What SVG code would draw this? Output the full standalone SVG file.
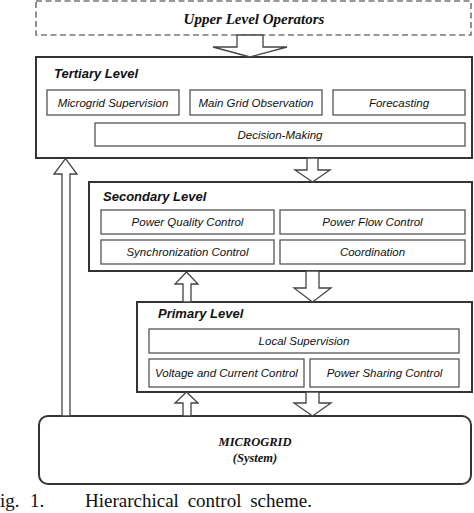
<svg xmlns="http://www.w3.org/2000/svg" width="474" height="513" viewBox="0 0 474 513">
<style>
.lvl{fill:#fff;stroke:#333;stroke-width:2}
.box{fill:#fff;stroke:#555;stroke-width:1.3}
.arr{fill:#fff;stroke:#444;stroke-width:1.3;stroke-linejoin:miter}
.lbl{font-family:"Liberation Sans",Arial,sans-serif;font-style:italic;font-size:11.5px;fill:#111;text-anchor:middle}
.ttl{font-family:"Liberation Sans",Arial,sans-serif;font-style:italic;font-weight:bold;font-size:13px;fill:#111}
.ser{font-family:"Liberation Serif","Times New Roman",serif;font-style:italic;font-weight:bold;fill:#111;text-anchor:middle}
.cap{font-family:"Liberation Serif","Times New Roman",serif;font-size:19px;fill:#111}
</style>
<rect width="474" height="513" fill="#fff"/>
<g id="upper">
<rect x="36" y="1" width="435" height="34" fill="#fff" stroke="#777" stroke-width="1.6" stroke-dasharray="6,3.5"/>
<text class="ser" x="254" y="24" font-size="15">Upper Level Operators</text>
</g>
<g id="tertiary">
<rect class="lvl" x="36" y="57" width="436" height="101"/>
<text class="ttl" x="54" y="78">Tertiary Level</text>
<rect class="box" x="47" y="90" width="132" height="25"/>
<text class="lbl" x="113" y="106.5">Microgrid Supervision</text>
<rect class="box" x="190" y="90" width="132" height="25"/>
<text class="lbl" x="256" y="106.5">Main Grid Observation</text>
<rect class="box" x="333" y="90" width="132" height="25"/>
<text class="lbl" x="399" y="106.5">Forecasting</text>
<rect class="box" x="95" y="123" width="370" height="23"/>
<text class="lbl" x="280" y="138.5">Decision-Making</text>
</g>
<g id="secondary">
<rect class="lvl" x="89" y="182" width="383" height="89"/>
<text class="ttl" x="103" y="201">Secondary Level</text>
<rect class="box" x="101" y="210" width="173" height="24"/>
<text class="lbl" x="187.5" y="226">Power Quality Control</text>
<rect class="box" x="280" y="210" width="185" height="24"/>
<text class="lbl" x="372.5" y="226">Power Flow Control</text>
<rect class="box" x="101" y="240" width="173" height="24"/>
<text class="lbl" x="187.5" y="256">Synchronization Control</text>
<rect class="box" x="280" y="240" width="185" height="24"/>
<text class="lbl" x="372.5" y="256">Coordination</text>
</g>
<g id="primary">
<rect class="lvl" x="137" y="302" width="335" height="90"/>
<text class="ttl" x="158" y="318">Primary Level</text>
<rect class="box" x="149" y="329" width="310" height="24"/>
<text class="lbl" x="304" y="345">Local Supervision</text>
<rect class="box" x="149" y="359" width="155" height="28"/>
<text class="lbl" x="226.5" y="377">Voltage and Current Control</text>
<rect class="box" x="310" y="359" width="149" height="28"/>
<text class="lbl" x="384.5" y="377">Power Sharing Control</text>
</g>
<g id="microgrid">
<rect class="lvl" x="39" y="416" width="432" height="68" rx="9" ry="9"/>
<text class="ser" x="255" y="446" font-size="12.5">MICROGRID</text>
<text class="ser" x="255" y="462" font-size="12.5">(System)</text>
</g>
<g id="connectors">
<polygon class="arr" points="237,35 263,35 263,47 287,47 250,57 213,47 237,47"/>
<polygon class="arr" points="307,158 318,158 318,170 330,170 312.5,182 295,170 307,170"/>
<polygon class="arr" points="306,271 319,271 319,288 331,288 312.5,302 294,288 306,288"/>
<polygon class="arr" points="306,392 319,392 319,403 331,403 312.5,416 294,403 306,403"/>
<polygon class="arr" points="183,302 191,302 191,284 198,284 186.5,272 175,284 183,284"/>
<polygon class="arr" points="183,416 191,416 191,403 198,403 186.5,392 175,403 183,403"/>
<polygon class="arr" points="62,416 70,416 70,174 77,174 65.5,158.5 54,174 62,174"/>
</g>
<g id="caption">
<text class="cap" y="507"><tspan x="0">ig.</tspan><tspan x="30">1.</tspan><tspan x="85" word-spacing="4">Hierarchical control scheme.</tspan></text>
</g>
</svg>
